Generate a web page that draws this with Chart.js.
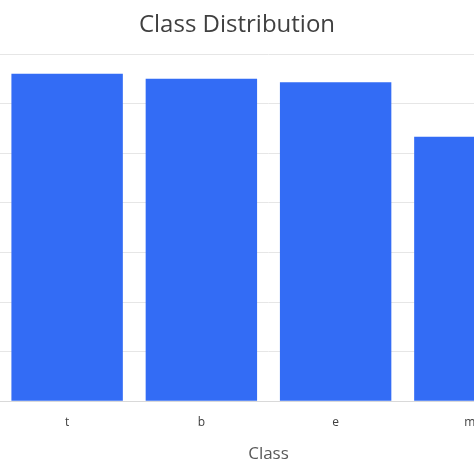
<!DOCTYPE html>
<html>
<head>
<script src="https://cdn.jsdelivr.net/npm/chart.js@4"></script>
<style>
  body { margin: 0; background: #fff; }
  #wrap { position: relative; width: 474px; height: 474px; overflow: hidden; }
  #title { position: absolute; top: 6px; left: 0; width: 474px; text-align: center;
           font: 24px "Open Sans", sans-serif; color: #404040; }
  #box { position: absolute; left: 0; top: 0; width: 540px; height: 474px; }
</style>
</head>
<body>
<div id="wrap">
  <div id="box"><canvas id="chart"></canvas></div>
  <div id="title">Class Distribution</div>
</div>
<script>
// class labels and counts (relative units, gridline = 1)
const categories = ["t", "b", "e", "m"];
const counts = [6.6, 6.5, 6.43, 5.33];

new Chart(document.getElementById("chart"), {
  type: "bar",
  data: {
    labels: categories,
    datasets: [{ data: counts, backgroundColor: "#336cf5", categoryPercentage: 0.83, barPercentage: 1 }],
  },
  options: {
    responsive: true,
    maintainAspectRatio: false,
    animation: false,
    layout: { padding: { top: 54, right: 3, left: 0, bottom: 6 } },
    plugins: { legend: { display: false }, tooltip: { enabled: false } },
    scales: {
      x: {
        grid: { display: false },
        border: { color: "#d9d9d9" },
        ticks: { color: "#404040", font: { size: 12, family: "Open Sans" }, padding: 6 },
        title: { display: true, text: "Class", color: "#595959", font: { size: 17, family: "Open Sans" }, padding: { top: 8 } },
      },
      y: {
        min: 0, max: 7,
        ticks: { display: false, stepSize: 1 },
        grid: { color: "#e6e6e6", drawTicks: false },
        border: { display: false },
      },
    },
  },
});
</script>
</body>
</html>
